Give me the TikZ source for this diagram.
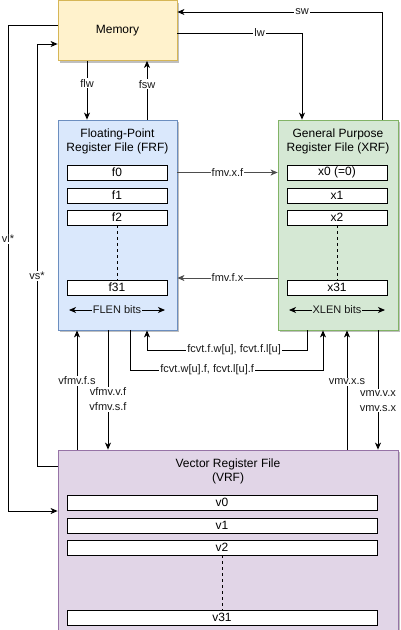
\documentclass[tikz,border=0pt]{standalone}
\usepackage{fontspec}
\setmainfont{Liberation Sans}
\usetikzlibrary{arrows.meta,shadows}
\definecolor{memfill}{HTML}{FFF2CC}
\definecolor{memdraw}{HTML}{D6B656}
\definecolor{frffill}{HTML}{DAE8FC}
\definecolor{frfdraw}{HTML}{6C8EBF}
\definecolor{xrffill}{HTML}{D5E8D4}
\definecolor{xrfdraw}{HTML}{82B366}
\definecolor{vrffill}{HTML}{E1D5E7}
\definecolor{vrfdraw}{HTML}{9673A6}
\definecolor{fmvline}{HTML}{4D4D4D}
\tikzset{
  blockbox/.style={draw, line width=0.8pt, inner sep=0pt,
    drop shadow={shadow xshift=2pt, shadow yshift=-2pt, fill=black, opacity=0.25}},
  regbox/.style={draw, fill=white, line width=0.9pt, minimum height=15pt, inner sep=0pt,
    font=\fontsize{12}{14}\selectfont},
  titletext/.style={align=center, font=\fontsize{12}{14}\selectfont},
  conn/.style={line width=0.9pt, -{Stealth[length=7pt,width=6pt,inset=2pt]}},
  biconn/.style={line width=0.9pt, {Stealth[length=7pt,width=6pt,inset=2pt]}-{Stealth[length=7pt,width=6pt,inset=2pt]}},
  elabel/.style={fill=white, inner sep=1pt, align=center, text=black!90,
    font=\fontsize{11}{15}\selectfont},
}
\begin{document}
\begin{tikzpicture}[x=1pt,y=-1pt]
\useasboundingbox (0,0) rectangle (401,630);
\clip (0,0) rectangle (401,630);
\fill[white] (0,0) rectangle (401,630);

% helper coordinates
\coordinate (xflw) at (87,0);
\coordinate (xfsw) at (147,0);
\coordinate (xlw) at (302,0);
\coordinate (xsw) at (382,0);
\coordinate (ysw) at (0,12);
\coordinate (ylw) at (0,33);
\coordinate (xvl) at (8,0);
\coordinate (xvs) at (37,0);
\coordinate (yvl) at (0,25);
\coordinate (yvlb) at (0,511);
\coordinate (yvsm) at (0,44);
\coordinate (yvs) at (0,466);
\coordinate (yfmvb) at (0,278);
\coordinate (xvfs) at (77,0);
\coordinate (xvvf) at (108,0);
\coordinate (xcw) at (130,0);
\coordinate (ycw) at (0,370);
\coordinate (xcwe) at (323,0);
\coordinate (xcf) at (307,0);
\coordinate (ycf) at (0,350);
\coordinate (xcfe) at (147,0);
\coordinate (xvxs) at (347,0);
\coordinate (xvvx) at (378,0);

% Memory
\node[blockbox, fill=memfill, draw=memdraw, minimum width=119pt, minimum height=60pt,
      font=\fontsize{12}{14}\selectfont] (mem) at (117.5,30.5) {Memory};

% FRF
\node[blockbox, fill=frffill, draw=frfdraw, minimum width=119pt, minimum height=210pt] (frf) at (117.5,225) {};
\node[titletext] (frft) at (117.5,141) {Floating-Point\\Register File (FRF)};
\node[regbox, minimum width=100pt] (f0) at (117,172.5) {f0};
\node[regbox, minimum width=100pt] (f1) at (117,195.5) {f1};
\node[regbox, minimum width=100pt] (f2) at (117,217.5) {f2};
\node[regbox, minimum width=100pt] (f31) at (117,287.5) {f31};
\draw[dashed, line width=0.7pt] (f2.south) -- (f31.north);
\coordinate (flenl) at (69,310);
\coordinate (flenr) at (165,310);
\draw[biconn] (flenl) -- node[elabel, fill=frffill] (flen) {FLEN bits} (flenr);

% XRF
\node[blockbox, fill=xrffill, draw=xrfdraw, minimum width=120pt, minimum height=210pt] (xrf) at (338,225) {};
\node[titletext] (xrft) at (338,141) {General Purpose\\Register File (XRF)};
\node[regbox, minimum width=100pt] (x0) at (337,172.5) {x0 (=0)};
\node[regbox, minimum width=100pt] (x1) at (337,195.5) {x1};
\node[regbox, minimum width=100pt] (x2) at (337,217.5) {x2};
\node[regbox, minimum width=100pt] (x31) at (337,287.5) {x31};
\draw[dashed, line width=0.7pt] (x2.south) -- (x31.north);
\coordinate (xlenl) at (289,310);
\coordinate (xlenr) at (385,310);
\draw[biconn] (xlenl) -- node[elabel, fill=xrffill] (xlen) {XLEN bits} (xlenr);

% VRF
\node[blockbox, fill=vrffill, draw=vrfdraw, minimum width=340pt, minimum height=200pt] (vrf) at (228,550) {};
\node[titletext] (vrft) at (228,471) {Vector Register File\\(VRF)};
\node[regbox, minimum width=310pt] (v0) at (222,502.5) {v0};
\node[regbox, minimum width=310pt] (v1) at (222,525.5) {v1};
\node[regbox, minimum width=310pt] (v2) at (222,547.5) {v2};
\node[regbox, minimum width=310pt] (v31) at (222,617.5) {v31};
\draw[dashed, line width=0.7pt] (v2.south) -- (v31.north);

% Memory <-> FRF
\draw[conn] (mem.south -| xflw) -- node[elabel, pos=0.38] {flw} (frf.north -| xflw);
\draw[conn] (frf.north -| xfsw) -- node[elabel, pos=0.6] {fsw} (mem.south -| xfsw);

% Memory <-> XRF
\draw[conn] (xrf.north -| xsw) -- (xsw |- ysw) -- node[elabel, pos=0.39] {sw} (mem.east |- ysw);
\draw[conn] (mem.east |- ylw) -- node[elabel, pos=0.66] {lw} (xlw |- ylw) -- (xrf.north -| xlw);

% Memory <-> VRF
\draw[conn] (mem.west |- yvl) -- (xvl |- yvl) -- node[elabel, pos=0.44] {vl*} (xvl |- yvlb) -- (vrf.west |- yvlb);
\draw[conn] (vrf.west |- yvs) -- (xvs |- yvs) -- node[elabel, pos=0.45] {vs*} (xvs |- yvsm) -- (mem.west |- yvsm);

% FRF <-> XRF
\draw[conn, draw=fmvline] (frf.east |- f0) -- node[elabel] {fmv.x.f} (xrf.west |- f0);
\draw[conn, draw=fmvline] (xrf.west |- yfmvb) -- node[elabel] {fmv.f.x} (frf.east |- yfmvb);
\draw[conn] (frf.south -| xcw) -- (xcw |- ycw) -- node[elabel, pos=0.4] {fcvt.w[u].f, fcvt.l[u].f} (xcwe |- ycw) -- (xrf.south -| xcwe);
\draw[conn] (xrf.south -| xcf) -- (xcf |- ycf) -- node[elabel, pos=0.456] {fcvt.f.w[u], fcvt.f.l[u]} (xcfe |- ycf) -- (frf.south -| xcfe);

% FRF/XRF <-> VRF
\draw[conn] (vrf.north -| xvfs) -- node[elabel, pos=0.575] {vfmv.f.s} (frf.south -| xvfs);
\draw[conn] (frf.south -| xvvf) -- node[elabel, pos=0.58] {vfmv.v.f\\vfmv.s.f} (vrf.north -| xvvf);
\draw[conn] (vrf.north -| xvxs) -- node[elabel, pos=0.567] {vmv.x.s} (xrf.south -| xvxs);
\draw[conn] (xrf.south -| xvvx) -- node[elabel, pos=0.59] {vmv.v.x\\vmv.s.x} (vrf.north -| xvvx);
\end{tikzpicture}
\end{document}
